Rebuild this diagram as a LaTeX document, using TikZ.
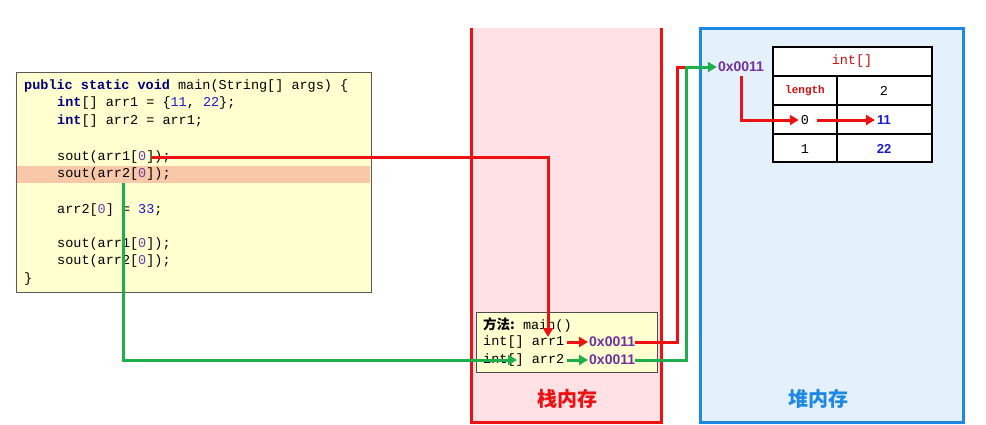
\documentclass[tikz,border=0pt]{standalone}
\usepackage{fontspec}
\setmonofont{Liberation Mono}
\setsansfont{Liberation Sans}
\newfontfamily\cjk{Noto Sans CJK SC}
\usetikzlibrary{arrows.meta}
\definecolor{kw}{HTML}{000080}
\definecolor{num}{HTML}{1A1AD0}
\definecolor{idx}{HTML}{6A3DB0}
\definecolor{addr}{HTML}{7030A0}
\definecolor{codebg}{HTML}{FFFFD0}
\definecolor{hl}{HTML}{F8C8A8}
\definecolor{stackbg}{HTML}{FFE1E6}
\definecolor{heapbg}{HTML}{E4F0FB}
\definecolor{rd}{HTML}{EE1111}
\definecolor{gr}{HTML}{1DB04A}
\definecolor{bl}{HTML}{1E88E5}
\tikzset{
 code/.style={anchor=west,inner sep=0pt,font=\ttfamily\fontsize{13.5}{15}\selectfont},
 addrtxt/.style={inner sep=0pt,font=\sffamily\bfseries\fontsize{14}{16}\selectfont,text=addr},
 rl/.style={draw=rd,line width=3pt,-{Triangle[length=9pt,width=10pt]}},
 gl/.style={draw=gr,line width=3pt,-{Triangle[length=9pt,width=10pt]}},
 cell/.style={draw=black,line width=2pt},
 celltxt/.style={inner sep=0pt,font=\ttfamily\fontsize{13.5}{15}\selectfont}
}
\newcommand{\kwd}[1]{\textbf{\textcolor{kw}{#1}}}
\begin{document}
\begin{tikzpicture}[x=1pt,y=-1pt]
\useasboundingbox[fill=white] (0,0) rectangle (986,424);
% stack
\path[fill=stackbg] (471,28) rectangle (661,422);
\draw[rd,line width=3pt] (471,28) -- (471,422) -- (661,422) -- (661,28);
\node[font=\cjk\bfseries\fontsize{20}{23}\selectfont,text=rd] (stk) at (567,399) {栈内存};
% heap
\draw[bl,line width=3pt,fill=heapbg] (700,28) rectangle (963,422);
\node[font=\cjk\bfseries\fontsize{20}{23}\selectfont,text=bl] (hp) at (818,399) {堆内存};
% code box
\draw[gray!70!black,line width=1pt,fill=codebg] (16,72) rectangle (371,292);
\path[fill=hl] (17,166) rectangle (370,183);
\node[code] (l1) at (24,86) {\kwd{public static void} main(String[] args) \{};
\node[code] (l2) at (57,103) {\kwd{int}[] arr1 = \{\textcolor{num}{11}, \textcolor{num}{22}\};};
\node[code] (l3) at (57,121) {\kwd{int}[] arr2 = arr1;};
\node[code] (l4) at (57,157) {sout(arr1[\textcolor{idx}{0}]);};
\node[code] (l5) at (57,174) {sout(arr2[\textcolor{idx}{0}]);};
\node[code] (l6) at (57,210) {arr2[\textcolor{idx}{0}] = \textcolor{num}{33};};
\node[code] (l7) at (57,244) {sout(arr1[\textcolor{idx}{0}]);};
\node[code] (l8) at (57,261) {sout(arr2[\textcolor{idx}{0}]);};
\node[code] (l9) at (24,279) {\}};
% method frame
\draw[black!70,line width=1pt,fill=codebg] (476,312) rectangle (657,372);
\node[code] (mt) at (483,325) {{\cjk\bfseries 方法:} main()};
\node[code] (a1) at (483,342) {int[] arr1};
\node[code] (a2) at (483,360) {int[] arr2};
\node[addrtxt,anchor=west] (v1) at (589,342) {0x0011};
\node[addrtxt,anchor=west] (v2) at (589,360) {0x0011};
% heap address and table
\node[addrtxt] (ha) at (741,67) {0x0011};
\draw[cell,fill=white] (773,47) rectangle (932,162);
\draw[cell] (773,76) -- (932,76) (773,105) -- (932,105) (773,134) -- (932,134) (837,76) -- (837,162);
\node[celltxt,text=rd!85!black] (th) at (852,61) {int[]};
\node[celltxt,font=\ttfamily\bfseries\fontsize{11}{13}\selectfont,text=rd!85!black] (tl) at (805,91) {length};
\node[celltxt] (tlv) at (884,91) {2};
\node[celltxt] (t0) at (805,120) {0};
\node[celltxt,text=num,font=\sffamily\bfseries\fontsize{13}{15}\selectfont] (t0v) at (884,120) {11};
\node[celltxt] (t1) at (805,149) {1};
\node[celltxt,text=num,font=\sffamily\bfseries\fontsize{13}{15}\selectfont] (t1v) at (884,149) {22};
% connectors
\coordinate (rs) at (152,157);
\draw[rl] (rs) -| (548,337);
\coordinate (gs) at (123,183);
\draw[gl] (gs) |- (517,360);
\draw[rl,shorten >=1pt] (567,342) -- (v1.west);
\draw[gl,shorten >=1pt] (567,360) -- (v2.west);
\draw[draw=rd,line width=3pt] (v1.east) -| (677,67) -- (700,67);
\draw[gl,shorten >=1pt] (v2.east) -| (686,67) -- (ha.west);
\draw[rl,shorten >=2pt] (741,76) |- (t0.west);
\draw[rl,shorten >=2pt] (817,120) -- (t0v.west);
\end{tikzpicture}
\end{document}
